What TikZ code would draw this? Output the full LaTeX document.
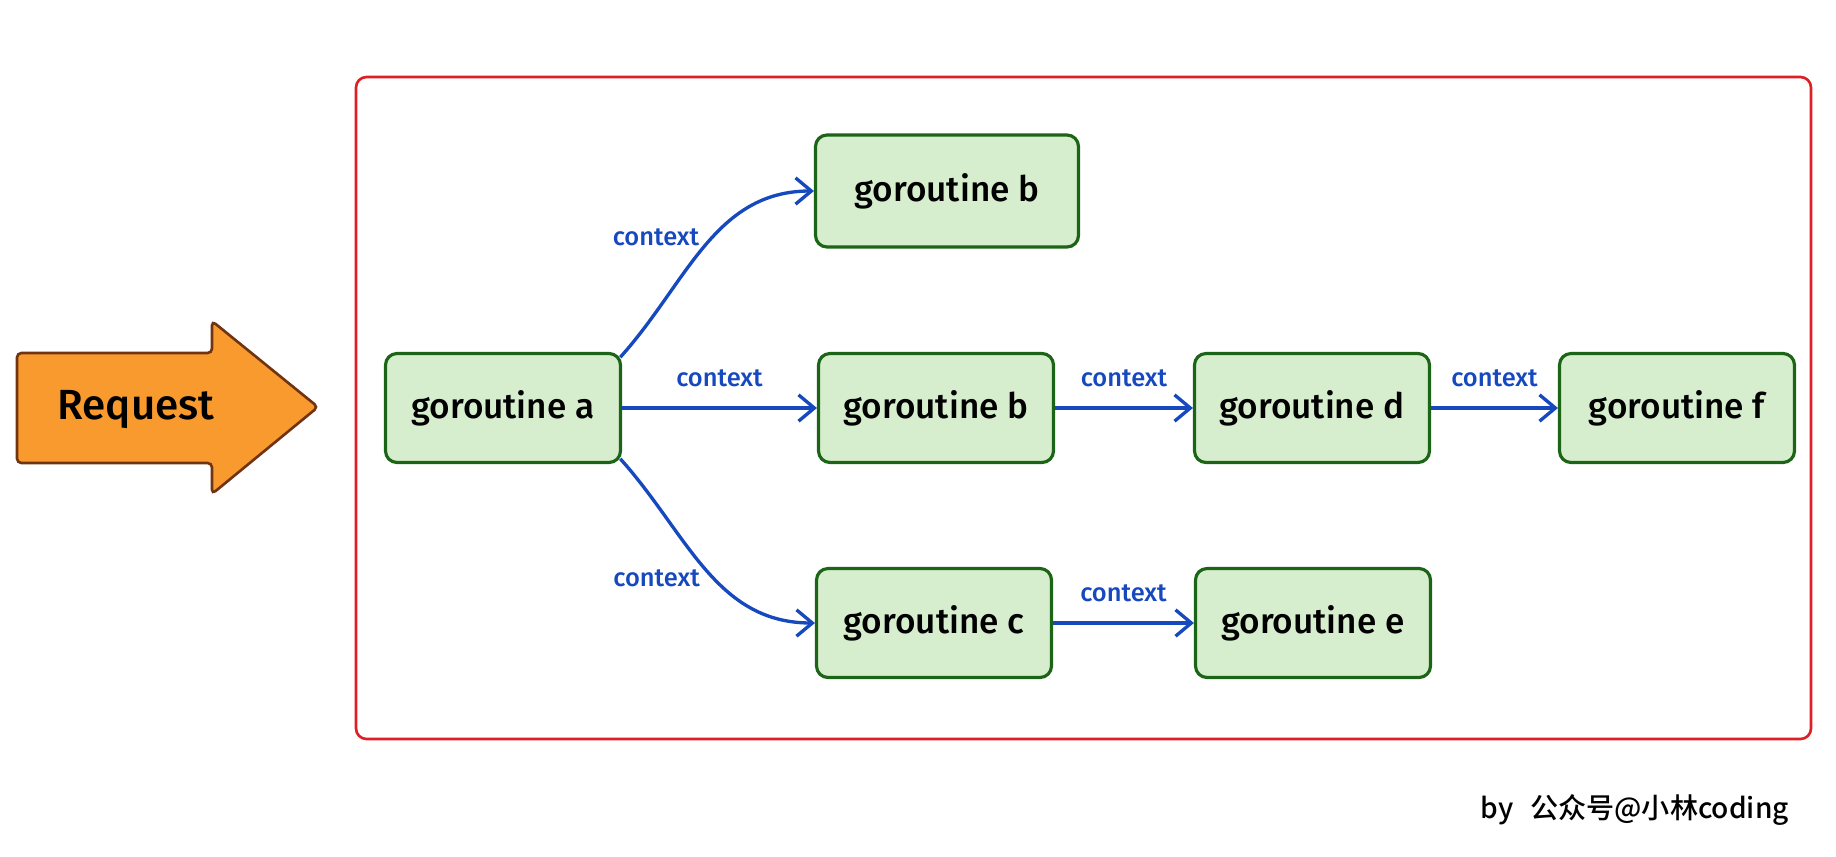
\documentclass[tikz,border=0pt]{standalone}
\usepackage{fontspec}
\setmainfont{Fira Sans Medium}
\newfontfamily\cjk{Noto Sans CJK SC Medium}
\usepackage{xcolor}
\usetikzlibrary{arrows.meta, positioning}

\definecolor{boxfill}{RGB}{214,238,205}
\definecolor{boxline}{RGB}{28,100,22}
\definecolor{ctxblue}{RGB}{22,72,190}
\definecolor{framered}{RGB}{222,32,36}
\definecolor{reqorange}{RGB}{248,154,46}
\definecolor{reqline}{RGB}{112,52,18}

\begin{document}
\begin{tikzpicture}[x=0.02cm, y=-0.02cm,
	gbox/.style={draw=boxline, fill=boxfill, line width=1.8pt, rounded corners=6.5pt,
		minimum width=4.7cm, minimum height=2.18cm, font=\fontsize{20}{24}\selectfont},
	ctx/.style={draw=ctxblue, line width=1.9pt, -{Straight Barb[length=9pt,width=15pt]}},
	lbl/.style={text=ctxblue, inner sep=0pt, font=\fontsize{14.5}{17}\selectfont}]
	% 画布
	\useasboundingbox (0,0) rectangle (1836,856);
	% 外框
	\draw[framered, line width=1.5pt, rounded corners=6pt] (356,77) rectangle (1811,739);
	% 请求箭头
	\draw[fill=reqorange, draw=reqline, line width=1.5pt, rounded corners=2.5pt]
		(17,353) -- (212,353) -- (212,321) -- (318,407) -- (212,494) -- (212,463) -- (17,463) -- cycle;
	\node[font=\fontsize{24}{28}\selectfont] (req) at (136,410) {Request};
	% goroutine 节点
	\node[gbox] (ga) at (503,408) {goroutine a};
	\node[gbox, minimum width=5.26cm, minimum height=2.24cm] (gb1) at (947,191) {goroutine b};
	\node[gbox] (gb2) at (936,408) {goroutine b};
	\node[gbox] (gd) at (1312,408) {goroutine d};
	\node[gbox] (gf) at (1677,408) {goroutine f};
	\node[gbox] (gc) at (934,623) {goroutine c};
	\node[gbox] (ge) at (1313,623) {goroutine e};
	% 连线
	\draw[ctx] ([xshift=-1pt,yshift=-3pt]ga.north east) to[out=48,in=180]
		node[lbl, pos=0.55, left=7pt] {context} (gb1.west);
	\draw[ctx] ([xshift=-1pt,yshift=3pt]ga.south east) to[out=-48,in=180]
		node[lbl, pos=0.55, left=7pt] {context} (gc.west);
	\foreach \s/\t in {ga/gb2, gb2/gd, gd/gf, gc/ge}
	\draw[ctx] (\s.east) -- (\t.west) node[lbl, midway, above=11pt] {context};
	% 署名
	\node[font=\cjk\fontsize{16}{19}\selectfont, anchor=base east] (sign) at (1795,818)
		{by\hspace{0.6em}公众号@小林coding};
\end{tikzpicture}
\end{document}
